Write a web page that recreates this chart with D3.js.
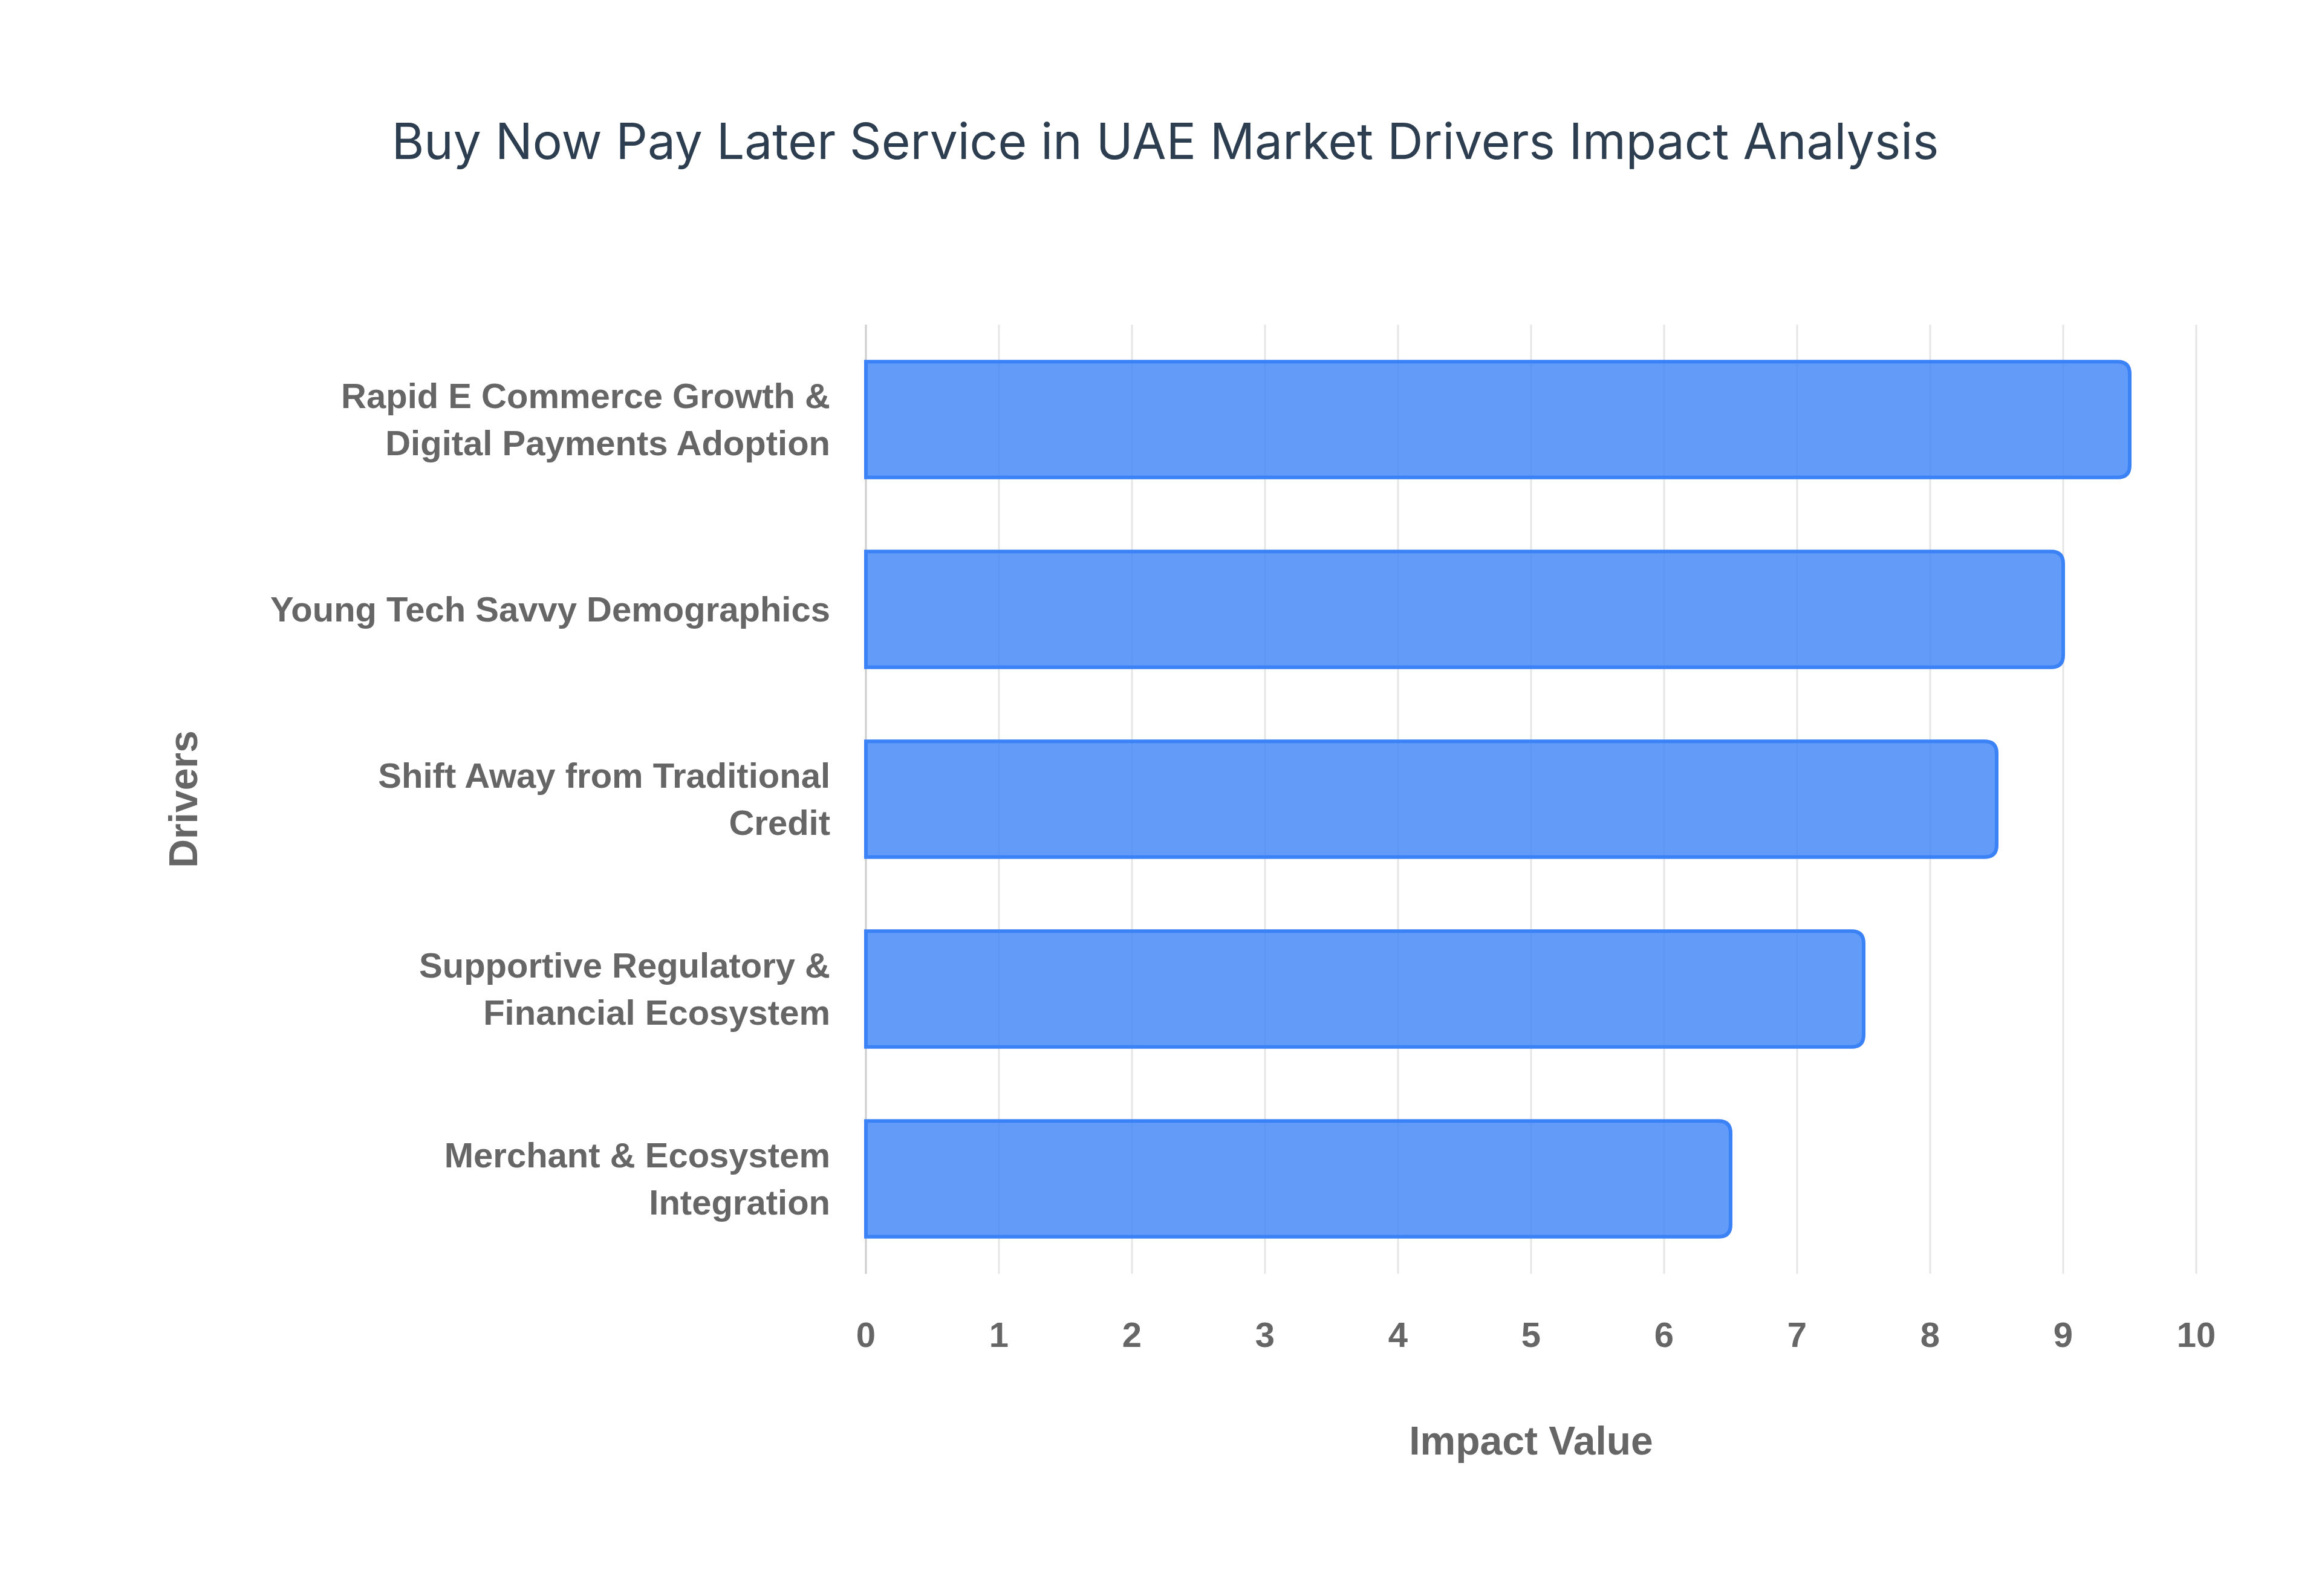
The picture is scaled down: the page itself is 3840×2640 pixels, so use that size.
<!DOCTYPE html>
<html><head><meta charset="utf-8">
<script src="https://cdn.jsdelivr.net/npm/d3@7"></script>
<style>body{margin:0;background:#fff}</style>
</head><body>
<svg id="c" width="3840" height="2640"></svg>
<script>
const categories = [
  ["Rapid E Commerce Growth &", "Digital Payments Adoption"],
  ["Young Tech Savvy Demographics"],
  ["Shift Away from Traditional", "Credit"],
  ["Supportive Regulatory &", "Financial Ecosystem"],
  ["Merchant & Ecosystem", "Integration"]
];
const values = [9.5, 9.0, 8.5, 7.5, 6.5];
const xTicks = [0,1,2,3,4,5,6,7,8,9,10];

const svg = d3.select("#c");
const x = d3.scaleLinear().domain([0,10]).range([1432,3632]);
const y = d3.scaleBand().domain(d3.range(categories.length)).range([537,2107]).paddingInner(0.39).paddingOuter(0.195);

// grid
svg.append("g").selectAll("line").data(xTicks).join("line")
  .attr("x1",d=>x(d)).attr("x2",d=>x(d)).attr("y1",537).attr("y2",2107)
  .attr("stroke",d=>d===0?"#cccccc":"#e6e6e6").attr("stroke-width",3);

// bars
const r = 20;
svg.append("g").selectAll("path").data(values).join("path")
  .attr("d",(v,i)=>{
    const x0=x(0), x1=x(v), y0=y(i), y1=y(i)+y.bandwidth();
    return `M${x0},${y0}H${x1-r}Q${x1},${y0} ${x1},${y0+r}V${y1-r}Q${x1},${y1} ${x1-r},${y1}H${x0}Z`;
  })
  .attr("fill","rgba(59,130,246,0.8)").attr("stroke","#3b82f6").attr("stroke-width",6);

// category labels
const lab = svg.append("g").attr("font-family","Liberation Sans, Arial, sans-serif")
  .attr("font-weight","bold").attr("font-size",58).attr("fill","#666").attr("text-anchor","end");
categories.forEach((lines,i)=>{
  const cy = y(i)+y.bandwidth()/2, lh = 78;
  lines.forEach((t,j)=>{
    lab.append("text").attr("x",1373)
      .attr("y",cy + (j-(lines.length-1)/2)*lh).attr("dy","0.35em").text(t);
  });
});

// x tick labels
svg.append("g").selectAll("text").data(xTicks).join("text")
  .attr("x",d=>x(d)).attr("y",2208).attr("dy","0.35em").attr("text-anchor","middle")
  .attr("font-family","Liberation Sans, Arial, sans-serif").attr("font-weight","bold")
  .attr("font-size",58).attr("fill","#666").text(d=>d);

// axis titles
svg.append("text").attr("x",x(5)).attr("y",2383).attr("dy","0.35em").attr("text-anchor","middle")
  .attr("font-family","Liberation Sans, Arial, sans-serif").attr("font-weight","bold")
  .attr("font-size",66).attr("fill","#666").text("Impact Value");
svg.append("text").attr("transform","translate(303,1322) rotate(-90)").attr("dy","0.35em")
  .attr("text-anchor","middle").attr("font-family","Liberation Sans, Arial, sans-serif")
  .attr("font-weight","bold").attr("font-size",66).attr("fill","#666").text("Drivers");

// title
svg.append("text").attr("x",1927).attr("y",234).attr("dy","0.35em").attr("text-anchor","middle")
  .attr("font-family","Inter, Lato, sans-serif").attr("font-size",82).attr("fill","#2c3e50")
  .text("Buy Now Pay Later Service in UAE Market Drivers Impact Analysis");
</script>
</body></html>
